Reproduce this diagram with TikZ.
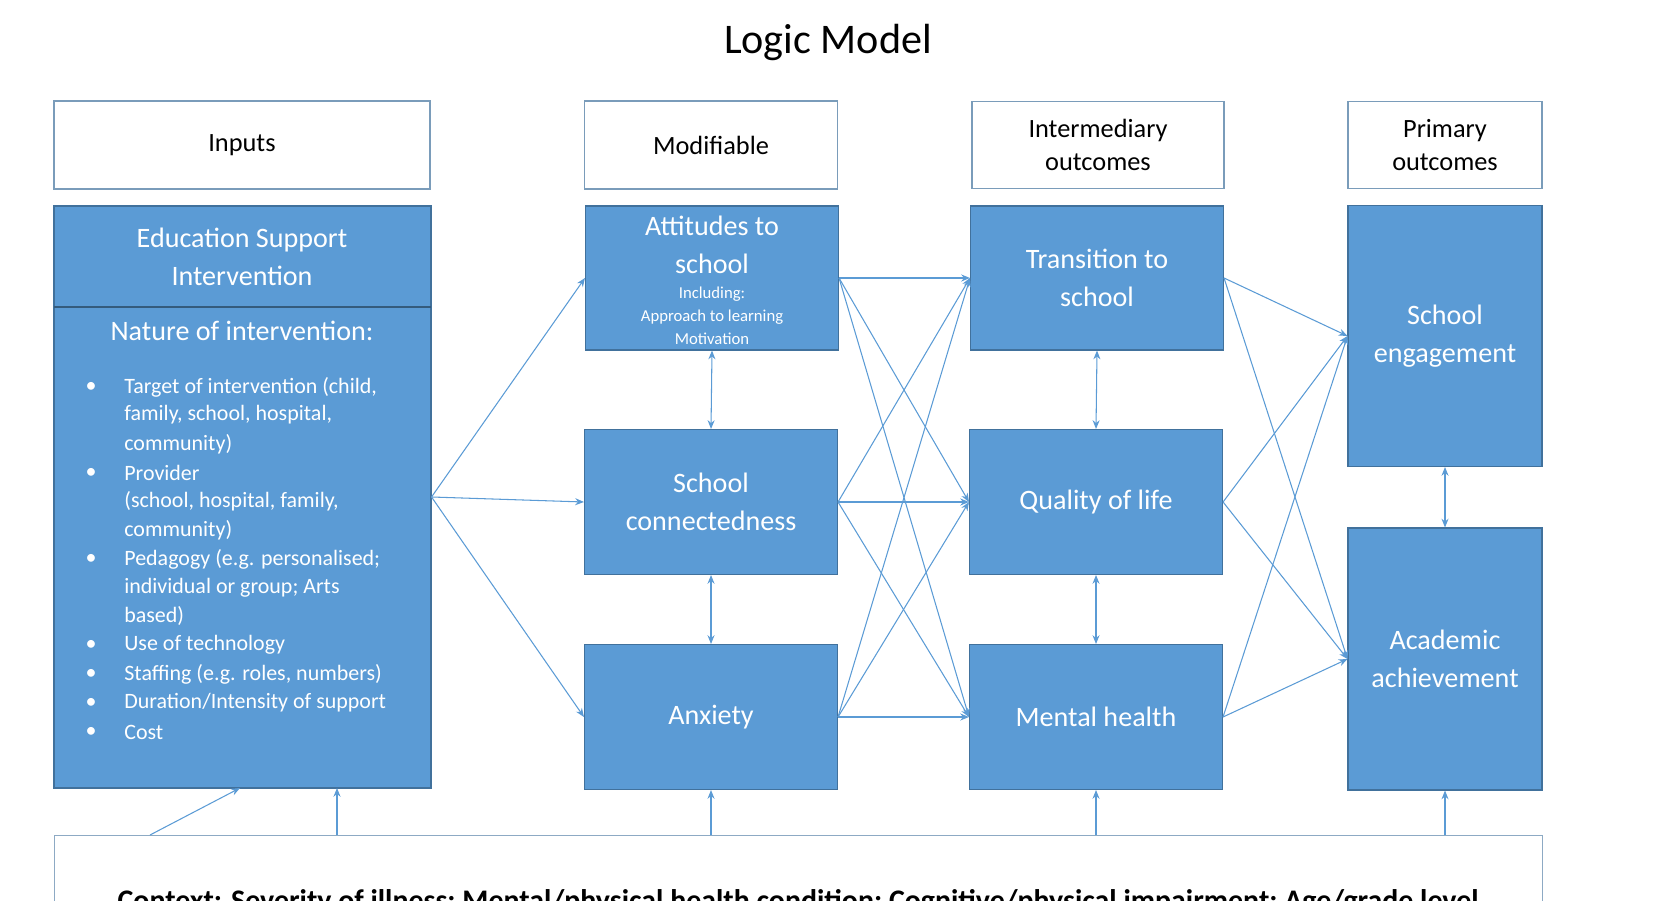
\documentclass[tikz,border=0pt]{standalone}
\usepackage{fontspec}
\setmainfont{Carlito}
\usetikzlibrary{arrows.meta}
\definecolor{bf}{HTML}{5B9BD5}
\definecolor{bl}{HTML}{41719C}
\definecolor{ln}{HTML}{5B9BD5}
\begin{document}
\begin{tikzpicture}[x=0.02cm,y=-0.02cm,
 hd/.style={draw=bl!70,fill=white,line width=0.6pt,align=center,font=\fontsize{15}{19}\selectfont,text=black},
 bx/.style={draw=bl,fill=bf,line width=0.6pt,align=center,text=white,font=\fontsize{16}{21.5}\selectfont},
 bu/.style={text=white,font=\fontsize{12.5}{16.3}\selectfont,inner sep=0pt},
 li/.style={text=white,font=\fontsize{12.5}{16.3}\selectfont,inner sep=0pt,anchor=west,align=left},
 ar/.style={draw=ln,line width=0.6pt,-{Stealth[length=5pt,width=4pt]}},
 da/.style={draw=ln,line width=0.6pt,{Stealth[length=5pt,width=4pt]}-{Stealth[length=5pt,width=4pt]}}]
\useasboundingbox (0,0) rectangle (1655,901);
\node[font=\fontsize{24}{28}\selectfont] (title) at (828,42) {Logic Model};
% headers
\node[hd,minimum width=376*0.02cm,minimum height=88*0.02cm] (h1) at (242,145) {Inputs};
\node[hd,minimum width=253*0.02cm,minimum height=88*0.02cm] (h2) at (711,145) {Modifiable};
\node[hd,minimum width=252*0.02cm,minimum height=87*0.02cm] (h3) at (1098,145) {Intermediary\\outcomes};
\node[hd,minimum width=194*0.02cm,minimum height=87*0.02cm] (h4) at (1445,145) {Primary\\outcomes};
% education
\node[bx,minimum width=377*0.02cm,minimum height=582*0.02cm] (edu) at (242.5,497) {};
\draw[bl!80!black,line width=0.6pt] (54,307) -- (431,307);
\node[text=white,align=center,font=\fontsize{16}{21.5}\selectfont] (edut) at (242,257) {Education Support\\Intervention};
\node[text=white,font=\fontsize{16}{20}\selectfont] (nat) at (242,331) {Nature of intervention:};
\node[li] (l1) at (124,387) {Target of intervention (child,};
\node[li] (l2) at (124,415) {family, school, hospital,};
\node[li] (l3) at (124,444) {community)};
\node[li] (l4) at (124,473) {Provider};
\node[li] (l5) at (124,501) {(school, hospital, family,};
\node[li] (l6) at (124,530) {community)};
\node[li] (l7) at (124,559) {Pedagogy (e.g. personalised;};
\node[li] (l8) at (124,588) {individual or group; Arts};
\node[li] (l9) at (124,616) {based)};
\node[li] (l10) at (124,645) {Use of technology};
\node[li] (l11) at (124,674) {Staffing (e.g. roles, numbers)};
\node[li] (l12) at (124,703) {Duration/Intensity of support};
\node[li] (l13) at (124,732) {Cost};
\foreach \y [count=\i] in {387,473,559,645,674,703,732}{\node[bu] (b\i) at (91,\y) {\textbullet};}
% modifiable
\node[bx,minimum width=253*0.02cm,minimum height=144*0.02cm] (att) at (712,278) {};
\node[text=white,align=center,font=\fontsize{16}{21.5}\selectfont] (attt) at (712,245) {Attitudes to\\school};
\node[text=white,align=center,font=\fontsize{9.5}{13}\selectfont] (atts) at (712,316) {Including:\\Approach to learning\\Motivation};
\node[bx,minimum width=253*0.02cm,minimum height=145*0.02cm] (sc) at (711,502) {School\\connectedness};
\node[bx,minimum width=253*0.02cm,minimum height=145*0.02cm] (anx) at (711,717) {Anxiety};
% intermediary
\node[bx,minimum width=253*0.02cm,minimum height=144*0.02cm] (tr) at (1097,278) {Transition to\\school};
\node[bx,minimum width=253*0.02cm,minimum height=145*0.02cm] (qol) at (1096,502) {Quality of life};
\node[bx,minimum width=253*0.02cm,minimum height=145*0.02cm] (mh) at (1096,717) {Mental health};
% primary
\node[bx,minimum width=194*0.02cm,minimum height=261*0.02cm] (se) at (1445,336) {School\\engagement};
\node[bx,minimum width=194*0.02cm,minimum height=262*0.02cm] (aa) at (1445,659) {Academic\\achievement};
% context
\begin{scope}
\clip (0,0) rectangle (1655,901);
\node[draw=bl!60,fill=white,line width=0.6pt,minimum width=1488*0.02cm,minimum height=80*0.02cm,anchor=north west] (ctx) at (54,835) {};
\node[font=\fontsize{17}{20}\selectfont\bfseries,anchor=base] (ctxt) at (798,910) {Context: Severity of illness; Mental/physical health condition; Cognitive/physical impairment; Age/grade level};
\end{scope}
% arrows
\draw[ar] (edu.east) -- (att.west);
\draw[ar] (edu.east) -- (sc.west);
\draw[ar] (edu.east) -- (anx.west);
\foreach \a in {att,sc,anx}{\foreach \b in {tr,qol,mh}{\draw[ar] (\a.east) -- (\b.west);}}
\foreach \a in {tr,qol,mh}{\draw[ar] (\a.east) -- (se.west); \draw[ar] (\a.east) -- (aa.west);}
\draw[da] (att.south) -- (sc.north);
\draw[da] (sc.south) -- (anx.north);
\draw[da] (tr.south) -- (qol.north);
\draw[da] (qol.south) -- (mh.north);
\draw[da] (se.south) -- (aa.north);
\coordinate (c0) at (150,835); \coordinate (e0) at (240,788);
\draw[ar] (c0) -- (e0);
\coordinate (c1) at (337,835); \coordinate (e1) at (337,788);
\draw[ar] (c1) -- (e1);
\draw[ar] (ctx.north -| anx.south) -- (anx.south);
\draw[ar] (ctx.north -| mh.south) -- (mh.south);
\draw[ar] (ctx.north -| aa.south) -- (aa.south);
\end{tikzpicture}
\end{document}
